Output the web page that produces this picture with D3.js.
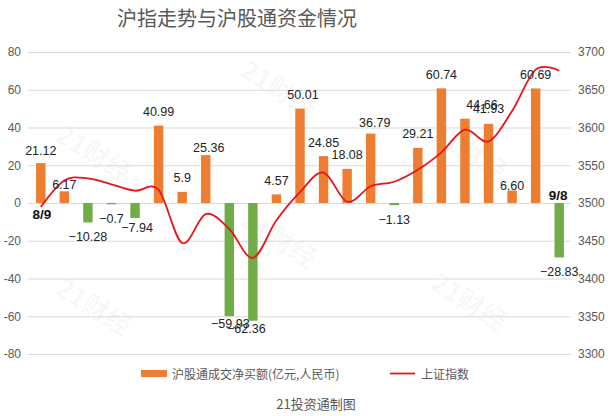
<!DOCTYPE html>
<html><head><meta charset="utf-8">
<script src="https://cdn.jsdelivr.net/npm/d3@7"></script>
<style>body{margin:0;background:#fff}svg{display:block}</style>
</head><body>
<script>
// ---- data ----
const categories = ["8/9","8/10","8/11","8/12","8/13","8/16","8/17","8/18","8/19","8/20","8/23","8/24","8/25","8/26","8/27","8/30","8/31","9/1","9/2","9/3","9/6","9/7","9/8"];
const netBuy = [21.12, 6.17, -10.28, -0.7, -7.94, 40.99, 5.9, 25.36, -59.93, -62.36, 4.57, 50.01, 24.85, 18.08, 36.79, -1.13, 29.21, 60.74, 44.66, 41.93, 6.60, 60.69, -28.83];
const netBuyLabels = ["21.12","6.17","−10.28","−0.7","−7.94","40.99","5.9","25.36","−59.93","−62.36","4.57","50.01","24.85","18.08","36.79","−1.13","29.21","60.74","44.66","41.93","6.60","60.69","−28.83"];
const indexClose = [3494.63, 3529.93, 3532.62, 3524.74, 3516.30, 3517.34, 3446.98, 3485.29, 3465.55, 3427.33, 3477.13, 3514.47, 3540.38, 3501.66, 3522.16, 3528.15, 3543.94, 3567.10, 3597.04, 3581.73, 3621.86, 3676.59, 3675.19];
const leftTicks = [80, 60, 40, 20, 0, -20, -40, -60, -80];
const rightTicks = [3700, 3650, 3600, 3550, 3500, 3450, 3400, 3350, 3300];
const title = "沪指走势与沪股通资金情况";
const seriesNames = ["沪股通成交净买额(亿元,人民币)", "上证指数"];
const footer = "21投资通制图";
const watermark = "21财经";

// ---- styles / layout ----
const W = 612, H = 416;
const C_POS = "#ED7D31", C_NEG = "#70AD47", C_LINE = "#E8141B", C_GRID = "#D9D9D9", C_TXT = "#595959";
const NUM_FONT = "'Liberation Sans', Arial, sans-serif";
const CJK_FONT = "'Noto Sans CJK SC', 'Noto Sans', sans-serif";
// manual label nudges (as in the source chart)
const labelNudge = {0:[0,1.5],1:[0,7],7:[3,6.5],11:[3,0],14:[4,2.5],18:[17,0],19:[0,-1.5],20:[0,9],4:[2,-5],8:[1,-7],9:[-6.5,-6.5]};

const svg = d3.select("body").append("svg").attr("width", W).attr("height", H);

const x = d3.scaleBand().domain(d3.range(categories.length)).range([29, 571]).padding(0);
const yL = d3.scaleLinear().domain([-80, 80]).range([354, 52]);
const yR = d3.scaleLinear().domain([3300, 3700]).range([354, 52]);
const barW = x.bandwidth() * 0.40;

// watermark
const wmPos = [[95,152],[95,305],[280,87],[280,237],[470,150],[470,300]];
svg.append("g").selectAll("text").data(wmPos).join("text")
  .attr("transform", d => `translate(${d[0]},${d[1]}) rotate(32)`)
  .attr("text-anchor", "middle").attr("dominant-baseline", "central")
  .style("font-family", CJK_FONT).style("font-weight", "bold").style("font-size", "26px")
  .attr("fill", "#000").attr("fill-opacity", 0.04).text(watermark);

// title
svg.append("text").attr("x", 237).attr("y", 26).attr("text-anchor", "middle")
  .style("font-family", CJK_FONT).style("font-size", "20px").attr("fill", C_TXT).text(title);

// gridlines
svg.append("g").selectAll("line").data(leftTicks).join("line")
  .attr("x1", 28).attr("x2", 571).attr("y1", d => yL(d) + 0.5).attr("y2", d => yL(d) + 0.5)
  .attr("stroke", C_GRID).attr("stroke-width", 1);

// left axis labels
const axL = svg.append("g").attr("transform", "translate(21,0)")
  .call(d3.axisLeft(yL).tickValues(leftTicks).tickSize(0).tickPadding(0).tickFormat(d => String(d)));
axL.select(".domain").remove();
axL.selectAll("text").style("font-family", NUM_FONT).style("font-size", "12px").attr("fill", C_TXT);

// right axis labels
const axR = svg.append("g").attr("transform", "translate(578,0)")
  .call(d3.axisRight(yR).tickValues(rightTicks).tickSize(0).tickPadding(0).tickFormat(d => String(d)));
axR.select(".domain").remove();
axR.selectAll("text").style("font-family", NUM_FONT).style("font-size", "12px").attr("fill", C_TXT);

// bars
svg.append("g").selectAll("rect").data(netBuy).join("rect")
  .attr("x", (d, i) => x(i) + x.bandwidth() / 2 - barW / 2)
  .attr("y", d => yL(Math.max(0, d)))
  .attr("width", barW)
  .attr("height", d => Math.abs(yL(d) - yL(0)))
  .attr("fill", d => d >= 0 ? C_POS : C_NEG);

// line
const line = d3.line()
  .x((d, i) => x(i) + x.bandwidth() / 2)
  .y(d => yR(d))
  .curve(d3.curveCardinal.tension(0));
svg.append("path").datum(indexClose).attr("d", line)
  .attr("fill", "none").attr("stroke", C_LINE).attr("stroke-width", 1.8);

// bar labels
svg.append("g").selectAll("text").data(netBuy).join("text")
  .attr("x", (d, i) => x(i) + x.bandwidth() / 2 + (labelNudge[i] ? labelNudge[i][0] : 0))
  .attr("y", (d, i) => (d >= 0 ? yL(d) - 9.5 : yL(d) + 19) + (labelNudge[i] ? labelNudge[i][1] : 0))
  .attr("text-anchor", "middle")
  .style("font-family", NUM_FONT).style("font-size", "12.5px").attr("fill", "#222")
  .text((d, i) => netBuyLabels[i]);

// first / last date labels
const first = 0, last = categories.length - 1;
svg.append("text").attr("x", x(first) + x.bandwidth() / 2 + 1).attr("y", 219)
  .attr("text-anchor", "middle").style("font-family", NUM_FONT).style("font-weight", "bold")
  .style("font-size", "13.5px").attr("fill", "#111").text(categories[first]);
svg.append("text").attr("x", x(last) + x.bandwidth() / 2 - 1).attr("y", 200)
  .attr("text-anchor", "middle").style("font-family", NUM_FONT).style("font-weight", "bold")
  .style("font-size", "13.5px").attr("fill", "#111").text(categories[last]);

// legend
const lg = svg.append("g");
lg.append("rect").attr("x", 141).attr("y", 370).attr("width", 26).attr("height", 7).attr("fill", C_POS);
lg.append("text").attr("x", 172).attr("y", 373.5).attr("dominant-baseline", "central")
  .style("font-family", CJK_FONT).style("font-size", "12px").attr("fill", C_TXT).text(seriesNames[0]);
lg.append("line").attr("x1", 390).attr("x2", 415).attr("y1", 373.5).attr("y2", 373.5)
  .attr("stroke", C_LINE).attr("stroke-width", 1.8);
lg.append("text").attr("x", 421).attr("y", 373.5).attr("dominant-baseline", "central")
  .style("font-family", CJK_FONT).style("font-size", "12px").attr("fill", C_TXT).text(seriesNames[1]);

// footer
svg.append("text").attr("x", 316).attr("y", 403).attr("text-anchor", "middle").attr("dominant-baseline", "central")
  .style("font-family", CJK_FONT).style("font-size", "13px").attr("fill", C_TXT).text(footer);
</script>
</body></html>
